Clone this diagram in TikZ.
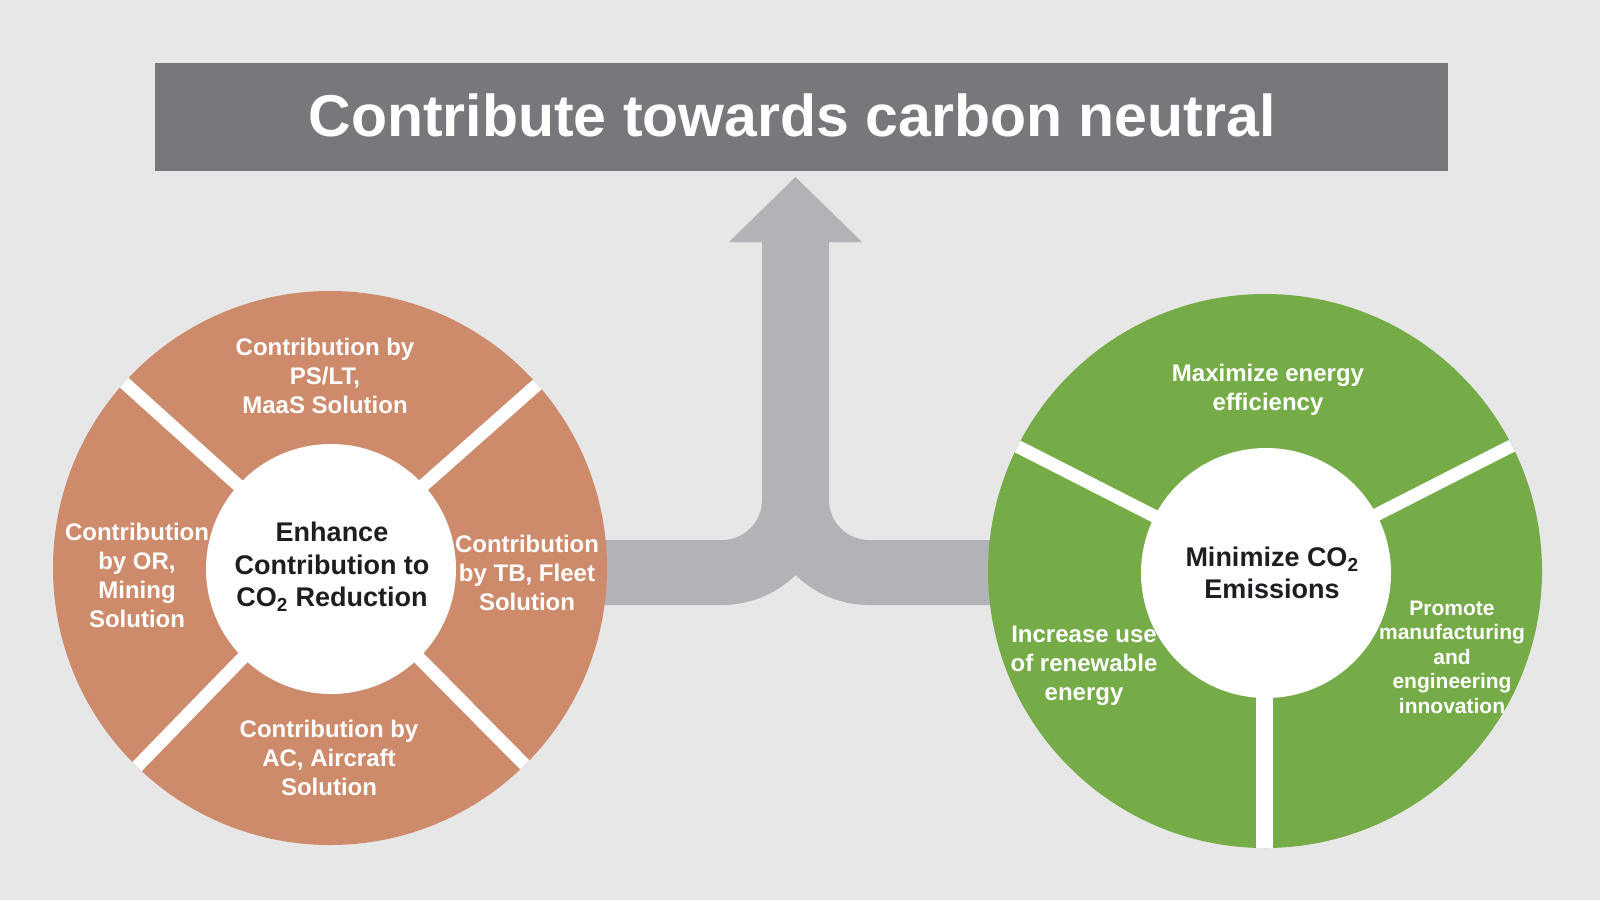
\documentclass[tikz,border=0pt]{standalone}
\usepackage{fontspec}
\setmainfont{Liberation Sans}
\definecolor{bgc}{HTML}{E7E7E7}
\definecolor{barc}{HTML}{77787C}
\definecolor{arrc}{HTML}{B2B3B6}
\definecolor{brownc}{HTML}{CD8B6C}
\definecolor{greenc}{HTML}{76AC48}
\definecolor{darktxt}{HTML}{1E1E22}
\tikzset{
  titlebox/.style={fill=barc, draw=none, minimum width=1293pt, minimum height=108pt, inner sep=0pt},
  titletext/.style={text=white, font=\bfseries\fontsize{59}{62}\selectfont, inner sep=0pt},
  bigdisc/.style={circle, draw=none, minimum size=554pt, inner sep=0pt},
  hubdisc/.style={circle, fill=white, draw=none, minimum size=250pt, inner sep=0pt},
  seplines/.style={draw=white, line width=13pt},
  lbl/.style={text=white, font=\bfseries\fontsize{24}{29}\selectfont, align=center, inner sep=0pt},
  smalllbl/.style={text=white, font=\bfseries\fontsize{21}{24.5}\selectfont, align=center, inner sep=0pt},
  hubtext/.style={text=darktxt, font=\bfseries\fontsize{27}{32.5}\selectfont, align=center, inner sep=0pt},
  flowarrow/.style={fill=arrc, draw=none}
}
\begin{document}
\begin{tikzpicture}[x=1pt,y=-1pt]
\fill[bgc] (0,0) rectangle (1600,900);
\useasboundingbox (0,0) rectangle (1600,900);

% title
\node[titlebox] (title) at (801.5,117) {};
\node[titletext] (titletxt) at (792,115) {Contribute towards carbon neutral};

% merging arrow
\fill[flowarrow] (560,540) -- (722,540)
  arc[start angle=90, end angle=0, radius=40]
  -- (762,242) -- (729,242) -- (795.5,177) -- (862,242) -- (829,242) -- (829,500)
  arc[start angle=180, end angle=90, radius=40]
  -- (1010,540) -- (1010,605) -- (869,605)
  arc[start angle=90, end angle=134.4, radius=105]
  arc[start angle=45.6, end angle=90, radius=105]
  -- (560,605) -- cycle;

% left disc
\node[bigdisc, fill=brownc] (ldisc) at (330,568) {};
\begin{scope}
  \clip (330,568) circle[radius=277];
  \draw[seplines] (330,568) -- ++(-222.9,-200.7);
  \draw[seplines] (330,568) -- ++(224.4,-198.7);
  \draw[seplines] (330,568) -- ++(-209.1,215.2);
  \draw[seplines] (330,568) -- ++(211.1,213.3);
\end{scope}
\node[hubdisc] (lhub) at (331,569) {};

% right disc
\node[bigdisc, fill=greenc] (rdisc) at (1265,571) {};
\begin{scope}
  \clip (1265,571) circle[radius=277];
  \draw[seplines] (1264,572) -- ++(-267.3,-136.2);
  \draw[seplines] (1264,572) -- ++(267.3,-136.2);
  \draw[draw=white, line width=17pt] (1264,572) -- (1264,880);
\end{scope}
\node[hubdisc] (rhub) at (1266,573) {};

% left labels
\node[hubtext] (lhubtxt) at (332,567) {Enhance\\Contribution to\\CO\textsubscript{2} Reduction};
\node[lbl] (ltop) at (325,376) {Contribution by\\PS/LT,\\MaaS Solution};
\node[lbl] (lleft) at (137,575) {Contribution\\by OR,\\Mining\\Solution};
\node[lbl] (lright) at (527,573) {Contribution\\by TB, Fleet\\Solution};
\node[lbl] (lbottom) at (329,758) {Contribution by\\AC, Aircraft\\Solution};

% right labels
\node[hubtext] (rhubtxt) at (1272,573) {Minimize CO\textsubscript{2}\\Emissions};
\node[lbl] (rtop) at (1268,390) {Maximize energy\\efficiency};
\node[lbl] (rleft) at (1084,666) {Increase use\\of renewable\\energy};
\node[smalllbl] (rright) at (1452,657) {Promote\\manufacturing\\and\\engineering\\innovation};
\end{tikzpicture}
\end{document}
